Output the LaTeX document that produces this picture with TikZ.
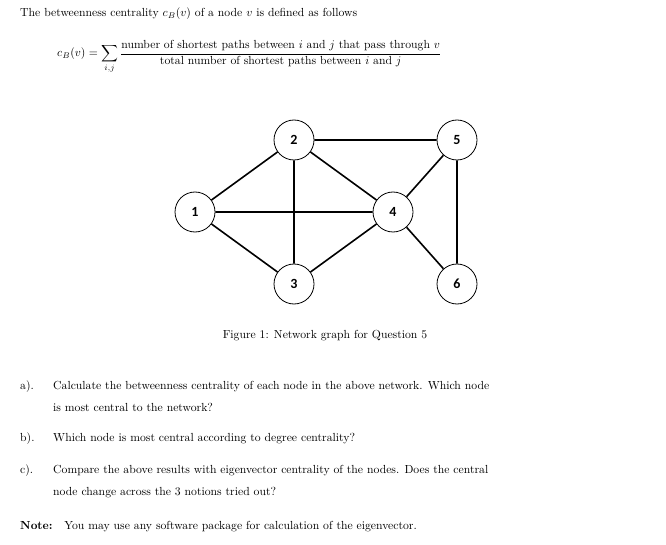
\documentclass[tikz,border=0pt]{standalone}
\usepackage{amsmath}
\usepackage{fontspec}
\newfontfamily\numfont{Carlito}
\begin{document}
\begin{tikzpicture}[x=1pt,y=-1pt,
  vtx/.style={circle,draw,line width=0.8pt,minimum size=40pt,inner sep=0pt,font=\numfont\bfseries\fontsize{14}{16}\selectfont},
  edge/.style={line width=1.6pt},
  txt/.style={anchor=base west,inner sep=0pt,scale=1.17,transform shape,font=\fontsize{10}{17}\selectfont}]
\useasboundingbox (0,0) rectangle (666,545);
\node[txt] (t1) at (20,17) {The betweenness centrality $c_B(v)$ of a node $v$ is defined as follows};
\node[txt,anchor=west] (f) at (57,57) {$\displaystyle c_B(v)=\sum_{i,j}\frac{\text{number of shortest paths between $i$ and $j$ that pass through $v$}}{\text{total number of shortest paths between $i$ and $j$}}$};
\node[vtx] (n1) at (195,212) {1};
\node[vtx] (n2) at (294,140) {2};
\node[vtx] (n3) at (294,284) {3};
\node[vtx] (n4) at (393,212) {4};
\node[vtx] (n5) at (457,140) {5};
\node[vtx] (n6) at (457,284) {6};
\draw[edge] (n1)--(n2) (n1)--(n3) (n1)--(n4) (n2)--(n3) (n2)--(n4) (n2)--(n5)
  (n3)--(n4) (n4)--(n5) (n4)--(n6) (n5)--(n6);
\node[txt,anchor=base] (cap) at (325,338) {Figure 1: Network graph for Question 5};
\node[txt] (la) at (20,389) {a).};
\node[txt] (ta) at (53,389) {\begin{tabular}[t]{@{}l@{}}Calculate the betweenness centrality of each node in the above network. Which node\\[2.5pt] is most central to the network?\end{tabular}};
\node[txt] (lb) at (20,441) {b).};
\node[txt] (tb) at (53,441) {Which node is most central according to degree centrality?};
\node[txt] (lc) at (20,473) {c).};
\node[txt] (tc) at (53,473) {\begin{tabular}[t]{@{}l@{}}Compare the above results with eigenvector centrality of the nodes. Does the central\\[2.5pt] node change across the 3 notions tried out?\end{tabular}};
\node[txt] (nt) at (20,529) {\textbf{Note:}\quad You may use any software package for calculation of the eigenvector.};
\end{tikzpicture}
\end{document}
